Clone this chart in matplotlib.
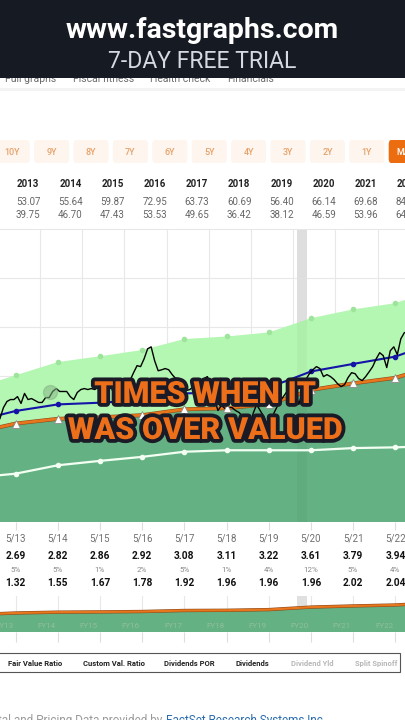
import numpy as np
import matplotlib
matplotlib.use("Agg")
import matplotlib.pyplot as plt
import matplotlib.patheffects as pe
from matplotlib import transforms
from matplotlib.patches import Rectangle, FancyBboxPatch

plt.rcParams['font.family'] = ['Roboto', 'DejaVu Sans']

#---------------------------------------------------------------------------------
# DATA

fiscal_years = [2012, 2013, 2014, 2015, 2016, 2017, 2018, 2019, 2020, 2021, 2022, 2023]
eps = [2.43, 2.69, 2.82, 2.86, 2.92, 3.08, 3.11, 3.22, 3.61, 3.79, 3.94, 4.29]
dividends = [1.21, 1.32, 1.55, 1.67, 1.78, 1.92, 1.96, 1.96, 1.96, 2.02, 2.04, 2.08]
normal_pe_line = [41.2, 45.5, 48.2, 48.9, 49.9, 52.7, 53.2, 55.1, 61.7, 64.8, 67.8, 74.0]
fair_value_pe = 15

fy_labels = ['5/13', '5/14', '5/15', '5/16', '5/17', '5/18', '5/19', '5/20', '5/21', '5/22']
eps_table = ['2.69', '2.82', '2.86', '2.92', '3.08', '3.11', '3.22', '3.61', '3.79', '3.94']
eps_growth = ['5%', '5%', '1%', '2%', '5%', '1%', '4%', '12%', '5%', '4%']
div_table = ['1.32', '1.55', '1.67', '1.78', '1.92', '1.96', '1.96', '1.96', '2.02', '2.04']
fy_short = ['FY13', 'FY14', 'FY15', 'FY16', 'FY17', 'FY18', 'FY19', 'FY20', 'FY21', 'FY22']

cal_years = ['2013', '2014', '2015', '2016', '2017', '2018', '2019', '2020', '2021', '2022']
price_high = ['53.07', '55.64', '59.87', '72.95', '63.73', '60.69', '56.40', '66.14', '69.68', '84.32']
price_low = ['39.75', '46.70', '47.43', '53.53', '49.65', '36.42', '38.12', '46.59', '53.96', '64.15']

# monthly closing price, Jan 2013 onwards
price_start = 2013.05
price_monthly = [
    42.4, 46.9, 49.4, 50.2, 50.2, 51.4, 48.6, 52.7, 50.2, 50.6, 49.8, 49.0,
    49.0, 51.0, 51.0, 53.5, 54.7, 53.5, 53.5, 53.5, 51.4, 50.2, 53.1, 54.3,
    54.7, 54.3, 54.7, 54.3, 55.5, 56.7, 58.8, 58.0, 53.9, 49.8, 53.1, 54.7,
    53.1, 58.0, 61.2, 64.1, 63.7, 66.9, 71.0, 71.8, 66.1, 62.0, 62.4, 62.9,
    62.4, 60.4, 58.8, 57.1, 55.9, 53.9, 54.3, 55.5, 57.1, 58.0, 58.8, 59.6,
    55.5, 50.2, 45.7, 47.8, 46.5, 46.9, 46.9, 45.7, 44.9, 43.3, 39.2, 37.6,
    44.5, 48.2, 45.7, 43.3, 40.0, 41.6, 44.9, 47.8, 50.2, 52.2, 54.3, 55.5,
    53.1, 48.2, 53.1, 58.4, 60.8, 62.4, 63.7, 62.9, 59.6, 60.4, 59.6, 58.4,
    56.7, 55.5, 56.3, 59.2, 61.2, 60.8, 58.8, 58.0, 59.6, 61.6, 63.7, 66.9,
    69.4, 68.2, 63.3, 70.2, 71.8, 68.6, 75.1, 77.6,
]

recession = (2020.09, 2020.33)
hover_point = (2014.24, 53.3)
range_buttons = ['10Y', '9Y', '8Y', '7Y', '6Y', '5Y', '4Y', '3Y', '2Y', '1Y', 'MAX']
legend_items = ['Fair Value Ratio', 'Custom Val. Ratio', 'Dividends POR', 'Dividends',
                'Dividend Yld', 'Split Spinoff']

# END OF DATA
#---------------------------------------------------------------------------------

W, H = 405, 720
DARK_GREEN = '#64b283'
LIGHT_GREEN = '#b4f7b2'
ORANGE = '#e8761c'
BLUE = '#1414a8'


def fy(px):
    return 1 - px / H


def fx(px):
    return px / W


fy_t = np.array(fiscal_years) + 0.42
eps_a = np.array(eps)
div_a = np.array(dividends)
fair_value = eps_a * fair_value_pe
div_stack = div_a * fair_value_pe
price_t = price_start + np.arange(len(price_monthly)) / 12.0
x_lim = (2013.052, 2022.649)

fig = plt.figure(figsize=(W / 100, H / 100), dpi=100)
fig.patch.set_facecolor('white')

# ---- main chart
ax = fig.add_axes([0, fy(522), 1, (522 - 230) / H])
ax.set_xlim(*x_lim)
ax.set_ylim(0, 119.7)
for s in ax.spines.values():
    s.set_visible(False)
ax.set_xticks(fy_t[1:-1])
ax.set_xticks(np.arange(2014, 2023), minor=True)
ax.set_yticks([20, 40, 60, 80, 100])
ax.tick_params(axis='x', which='major', length=6, color='#dddddd', labelbottom=False)
ax.tick_params(axis='x', which='minor', length=0)
ax.tick_params(axis='y', length=0, labelleft=False)
ax.grid(True, which='minor', axis='x', color='#e8e8e8', lw=0.8, zorder=0)
ax.grid(True, which='major', axis='y', color='#e8e8e8', lw=0.8, zorder=0)
ax.set_axisbelow(True)

ax.axvspan(*recession, color='#e6e6e6', zorder=0.5, lw=0)
ax.fill_between(fy_t, 0, fair_value, color=DARK_GREEN, lw=0, zorder=1)
ax.fill_between(fy_t, fair_value, fair_value + div_stack, color=LIGHT_GREEN, lw=0, zorder=1)
ax.axvspan(*recession, color='black', alpha=0.03, zorder=1.5, lw=0)
ax.plot(fy_t, fair_value + div_stack, ls='none', marker='o', ms=3, color='#9ee49c', zorder=2)

ax.plot(fy_t, div_stack, color='#f2fff2', lw=1.6, marker='o', ms=3, zorder=3)
ax.plot(fy_t, normal_pe_line, color=BLUE, lw=1.5, marker='o', ms=3, zorder=3)
ax.plot(fy_t, fair_value, color=ORANGE, lw=2, zorder=3,
        path_effects=[pe.Stroke(linewidth=2.8, foreground='#8a4a1a'), pe.Normal()])
ax.plot(price_t, price_monthly, color='black', lw=1.0, zorder=4)
ax.plot(fy_t, fair_value, ls='none', marker='^', ms=6, mfc='white', mec='#8a8a8a',
        mew=0.6, zorder=5)
ax.plot(*hover_point, marker='o', ms=10, color='#86b486', alpha=0.55, zorder=5)

# overlay caption
caption_fx = [pe.withStroke(linewidth=5.5, foreground='#1b1b27')]
for txt, base in [('TIMES WHEN IT', 403), ('WAS OVER VALUED', 439)]:
    fig.text(fx(205), fy(base), txt, ha='center', va='baseline', fontsize=22,
             fontweight='black', color='#ee6f1a', path_effects=caption_fx, zorder=20)

# ---- lower navigator chart
ax2 = fig.add_axes([0, fy(632), 1, 36 / H])
ax2.set_xlim(*x_lim)
ax2.set_ylim(-0.28, 5.345)
for s in ax2.spines.values():
    s.set_visible(False)
ax2.set_xticks(fy_t[1:-1])
ax2.set_yticks([])
ax2.tick_params(axis='x', length=7, color='#dddddd', labelbottom=False)
ax2.grid(True, axis='x', color='#e8e8e8', lw=0.8)
ax2.set_axisbelow(True)
ax2.axvspan(*recession, color='#e0e0e0', zorder=0.5, lw=0)
ax2.fill_between(fy_t, -0.28, eps_a, color=DARK_GREEN, lw=0, zorder=1)
ax2.plot(fy_t, eps_a, color=ORANGE, lw=1.6, zorder=3,
         path_effects=[pe.Stroke(linewidth=2.4, foreground='#8a4a1a'), pe.Normal()])
tr2 = transforms.blended_transform_factory(ax2.transData, ax2.transAxes)
for i, lab in enumerate(fy_short):
    ax2.text(fiscal_years[i + 1] + 0.15, 0.17, lab, transform=tr2, ha='center', va='center',
             fontsize=5.8, color='#93bd9f', zorder=4)

# ---- header
fig.patches.append(Rectangle((0, fy(78)), 1, 78 / H, transform=fig.transFigure,
                             facecolor='#161a22', lw=0, zorder=5))
fig.text(0.5, fy(37.5), 'www.fastgraphs.com', ha='center', va='baseline', fontsize=20.5,
         fontweight='bold', color='white', zorder=6)
fig.text(0.5, fy(67.7), '7-DAY FREE TRIAL', ha='center', va='baseline', fontsize=16.6,
         color='#d6d9e0', zorder=6)

for lab, x in [('Full graphs', 5), ('Fiscal fitness', 73), ('Health check', 150), ('Financials', 227)]:
    fig.text(fx(x), fy(82.5), lab, ha='left', va='baseline', fontsize=7.5, color='#6b6b6b', zorder=1)
fig.patches.append(Rectangle((0, fy(91)), 1, 3 / H, transform=fig.transFigure,
                             facecolor='#f3f3f3', lw=0, zorder=1))

# ---- range buttons
for i, lab in enumerate(range_buttons):
    cx = 12.2 + 39.4 * i
    active = lab == 'MAX'
    box = FancyBboxPatch((fx(cx - 17.5), fy(163)), fx(35), 23 / H,
                         boxstyle='round,pad=0,rounding_size=0.006', transform=fig.transFigure,
                         facecolor='#ec6d10' if active else '#fdf5ee', lw=0, zorder=1)
    fig.patches.append(box)
    fig.text(fx(cx), fy(152.5), lab, ha='center', va='center', fontsize=6.5,
             fontweight='medium', color='white' if active else '#e6a26a', zorder=2)

# ---- price table (top)
trf = transforms.blended_transform_factory(ax.transData, fig.transFigure)
for i, yr in enumerate(cal_years):
    x = int(yr) + 0.72
    fig.text(x, fy(186.7), yr, transform=trf, ha='center', va='baseline', fontsize=7,
             fontweight='bold', color='#222222')
    fig.text(x, fy(205), price_high[i], transform=trf, ha='center', va='baseline',
             fontsize=7, color='#666666')
    fig.text(x, fy(218), price_low[i], transform=trf, ha='center', va='baseline',
             fontsize=7, color='#666666')
fig.patches.append(Rectangle((0, fy(230)), 1, 1.5 / H, transform=fig.transFigure,
                             facecolor='#e6e6e6', lw=0, zorder=1))

# ---- fundamentals table (bottom)
for i, lab in enumerate(fy_labels):
    x = fy_t[i + 1]
    fig.text(x, fy(541), lab, transform=trf, ha='center', va='baseline', fontsize=7,
             color='#707070')
    fig.text(x, fy(559.3), eps_table[i], transform=trf, ha='center', va='baseline',
             fontsize=7.3, fontweight='bold', color='#111111')
    fig.text(x, fy(572), eps_growth[i], transform=trf, ha='center', va='baseline',
             fontsize=5.8, color='#8a8a8a')
    fig.text(x, fy(586), div_table[i], transform=trf, ha='center', va='baseline',
             fontsize=7.3, fontweight='bold', color='#111111')

# ---- legend strip
fig.patches.append(Rectangle((fx(-2), fy(672)), fx(402), 19 / H, transform=fig.transFigure,
                             facecolor='white', edgecolor='#555555', lw=0.8, zorder=1))
leg_x = [8, 83, 164, 236, 291, 355]
leg_col = ['#222222', '#222222', '#222222', '#222222', '#b8b8b8', '#b8b8b8']
for lab, x, c in zip(legend_items, leg_x, leg_col):
    fig.text(fx(x), fy(666), lab, ha='left', va='baseline', fontsize=5.5, fontweight='bold',
             color=c, zorder=2)
mk = fig.add_axes([0, fy(672), 1, 19 / H])
mk.set_xlim(0, W)
mk.set_ylim(0, 19)
mk.axis('off')
mk.plot(3, 9, marker='^', ms=5, mfc='white', mec='#333333', mew=0.7)
mk.plot(77, 9, marker='o', ms=3.5, color='#b000b8')
mk.plot(158, 9, marker='o', ms=4, mfc='#f6f6f6', mec='#eeeeee')
mk.plot(230, 9, marker='o', ms=5.5, color='#a4f2a0')
mk.plot(286, 9, marker='o', ms=3, color='#d4d4d4')
mk.plot(348, 9, marker='o', ms=5.5, color='#cfcfcf')

# ---- footer
fig.text(fx(165), fy(724), 'Fundamental and Pricing Data provided by ', ha='right',
         va='baseline', fontsize=8.5, color='#9a9a9a')
fig.text(fx(166), fy(724), 'FactSet Research Systems Inc.', ha='left', va='baseline',
         fontsize=8.5, color='#2a6db0')

fig.savefig('out.png', dpi=100)
